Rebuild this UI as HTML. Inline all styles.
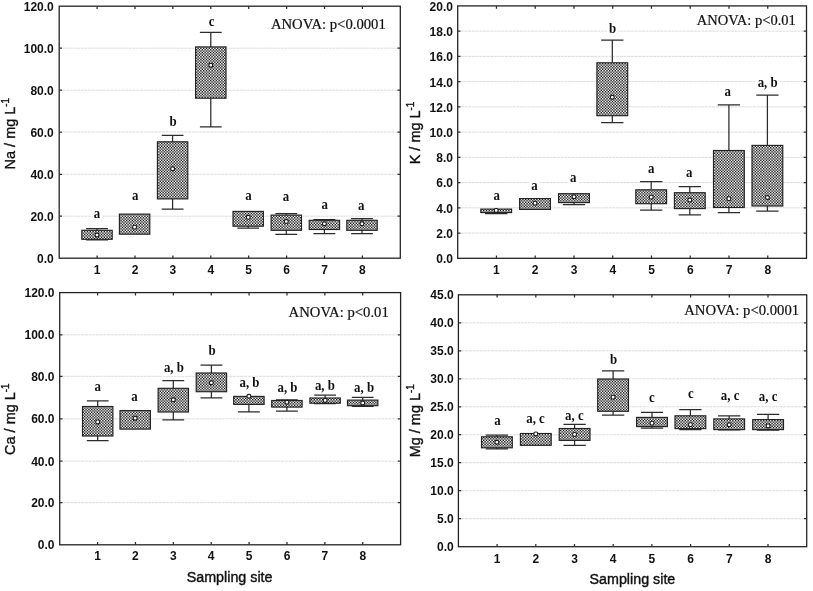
<!DOCTYPE html>
<html lang="en">
<head>
<meta charset="utf-8">
<title>Box plots: Na, K, Ca, Mg by sampling site</title>
<style>
html,body{margin:0;padding:0;background:#fff;}
body{width:813px;height:591px;overflow:hidden;}
svg{display:block;}
text{fill:#111;}
.tk{font-family:"Liberation Sans",Arial,sans-serif;font-size:12px;font-weight:bold;}
.al{font-family:"Liberation Sans",Arial,sans-serif;font-size:15.5px;stroke:#111;stroke-width:0.4px;}
.sup{font-size:10.5px;}
.xl{font-size:14.9px;}
.an{font-family:"Liberation Serif","Times New Roman",serif;font-size:14.2px;stroke:#111;stroke-width:0.2px;}
.lt{font-family:"Liberation Serif","Times New Roman",serif;font-size:14px;font-weight:bold;}
</style>
</head>
<body>
<svg width="813" height="591" viewBox="0 0 813 591">
<defs>
<pattern id="hatch" width="14" height="14" patternUnits="userSpaceOnUse"><rect width="14" height="14" fill="#1c1c1c"/><path d="M0 0h1.4v1.4h-1.4zM0 2.8h1.4v1.4h-1.4zM0 5.6h1.4v1.4h-1.4zM0 8.4h1.4v1.4h-1.4zM0 11.2h1.4v1.4h-1.4zM1.4 1.4h1.4v1.4h-1.4zM1.4 4.2h1.4v1.4h-1.4zM1.4 7h1.4v1.4h-1.4zM1.4 9.8h1.4v1.4h-1.4zM1.4 12.6h1.4v1.4h-1.4zM2.8 0h1.4v1.4h-1.4zM2.8 2.8h1.4v1.4h-1.4zM2.8 5.6h1.4v1.4h-1.4zM2.8 8.4h1.4v1.4h-1.4zM2.8 11.2h1.4v1.4h-1.4zM4.2 1.4h1.4v1.4h-1.4zM4.2 4.2h1.4v1.4h-1.4zM4.2 7h1.4v1.4h-1.4zM4.2 9.8h1.4v1.4h-1.4zM4.2 12.6h1.4v1.4h-1.4zM5.6 0h1.4v1.4h-1.4zM5.6 2.8h1.4v1.4h-1.4zM5.6 5.6h1.4v1.4h-1.4zM5.6 8.4h1.4v1.4h-1.4zM5.6 11.2h1.4v1.4h-1.4zM7 1.4h1.4v1.4h-1.4zM7 4.2h1.4v1.4h-1.4zM7 7h1.4v1.4h-1.4zM7 9.8h1.4v1.4h-1.4zM7 12.6h1.4v1.4h-1.4zM8.4 0h1.4v1.4h-1.4zM8.4 2.8h1.4v1.4h-1.4zM8.4 5.6h1.4v1.4h-1.4zM8.4 8.4h1.4v1.4h-1.4zM8.4 11.2h1.4v1.4h-1.4zM9.8 1.4h1.4v1.4h-1.4zM9.8 4.2h1.4v1.4h-1.4zM9.8 7h1.4v1.4h-1.4zM9.8 9.8h1.4v1.4h-1.4zM9.8 12.6h1.4v1.4h-1.4zM11.2 0h1.4v1.4h-1.4zM11.2 2.8h1.4v1.4h-1.4zM11.2 5.6h1.4v1.4h-1.4zM11.2 8.4h1.4v1.4h-1.4zM11.2 11.2h1.4v1.4h-1.4zM12.6 1.4h1.4v1.4h-1.4zM12.6 4.2h1.4v1.4h-1.4zM12.6 7h1.4v1.4h-1.4zM12.6 9.8h1.4v1.4h-1.4zM12.6 12.6h1.4v1.4h-1.4z" fill="#fff"/></pattern>
</defs>
<rect width="813" height="591" fill="#fff"/>
<g>
<line x1="62.2" y1="48.2" x2="397.3" y2="48.2" stroke="#dadada" stroke-width="0.95" stroke-dasharray="3 0.7"/>
<line x1="62.2" y1="90.2" x2="397.3" y2="90.2" stroke="#dadada" stroke-width="0.95" stroke-dasharray="3 0.7"/>
<line x1="62.2" y1="132" x2="397.3" y2="132" stroke="#dadada" stroke-width="0.95" stroke-dasharray="3 0.7"/>
<line x1="62.2" y1="174.3" x2="397.3" y2="174.3" stroke="#dadada" stroke-width="0.95" stroke-dasharray="3 0.7"/>
<line x1="62.2" y1="216.2" x2="397.3" y2="216.2" stroke="#dadada" stroke-width="0.95" stroke-dasharray="3 0.7"/>
<rect x="91.5" y="207.7" width="11" height="14" fill="#fff"/>
<rect x="129.6" y="190.35" width="11" height="14" fill="#fff"/>
<rect x="167.5" y="116" width="11" height="14" fill="#fff"/>
<rect x="206.1" y="15.7" width="11" height="14" fill="#fff"/>
<rect x="242.9" y="189.9" width="11" height="14" fill="#fff"/>
<rect x="280.4" y="191.2" width="11" height="14" fill="#fff"/>
<rect x="319.1" y="199.2" width="11" height="14" fill="#fff"/>
<rect x="355.8" y="199.5" width="11" height="14" fill="#fff"/>
<path d="M97 230.3V228.5M86.1 228.5H107.9" stroke="#2c2c2c" stroke-width="1.25" fill="none"/>
<path d="M97 239.3V239.9M86.1 239.9H107.9" stroke="#2c2c2c" stroke-width="1.25" fill="none"/>
<rect x="81.8" y="230.3" width="30.4" height="9" fill="url(#hatch)" stroke="#222" stroke-width="1.15"/>
<rect x="95.1" y="233.1" width="3.8" height="3.8" rx="1.6" fill="#fff" stroke="#1c1c1c" stroke-width="1.15"/>
<text class="lt" transform="translate(97 217.7) scale(0.92 1)" text-anchor="middle">a</text>
<rect x="119.4" y="214.1" width="30.4" height="20.1" fill="url(#hatch)" stroke="#222" stroke-width="1.15"/>
<rect x="132.7" y="225.2" width="3.8" height="3.8" rx="1.6" fill="#fff" stroke="#1c1c1c" stroke-width="1.15"/>
<text class="lt" transform="translate(135.1 200.35) scale(0.92 1)" text-anchor="middle">a</text>
<path d="M172.6 141.8V135.3M161.7 135.3H183.5" stroke="#2c2c2c" stroke-width="1.25" fill="none"/>
<path d="M172.6 198.9V209M161.7 209H183.5" stroke="#2c2c2c" stroke-width="1.25" fill="none"/>
<rect x="157.4" y="141.8" width="30.4" height="57.1" fill="url(#hatch)" stroke="#222" stroke-width="1.15"/>
<rect x="170.7" y="166.8" width="3.8" height="3.8" rx="1.6" fill="#fff" stroke="#1c1c1c" stroke-width="1.15"/>
<text class="lt" transform="translate(173 126) scale(0.92 1)" text-anchor="middle">b</text>
<path d="M210.8 46.9V32.3M199.9 32.3H221.7" stroke="#2c2c2c" stroke-width="1.25" fill="none"/>
<path d="M210.8 98.2V126.8M199.9 126.8H221.7" stroke="#2c2c2c" stroke-width="1.25" fill="none"/>
<rect x="195.6" y="46.9" width="30.4" height="51.3" fill="url(#hatch)" stroke="#222" stroke-width="1.15"/>
<rect x="208.9" y="63.3" width="3.8" height="3.8" rx="1.6" fill="#fff" stroke="#1c1c1c" stroke-width="1.15"/>
<text class="lt" transform="translate(211.6 25.7) scale(0.92 1)" text-anchor="middle">c</text>
<path d="M248.2 226.2V228.1M237.3 228.1H259.1" stroke="#2c2c2c" stroke-width="1.25" fill="none"/>
<rect x="233" y="211.4" width="30.4" height="14.8" fill="url(#hatch)" stroke="#222" stroke-width="1.15"/>
<rect x="246.3" y="215.4" width="3.8" height="3.8" rx="1.6" fill="#fff" stroke="#1c1c1c" stroke-width="1.15"/>
<text class="lt" transform="translate(248.4 199.9) scale(0.92 1)" text-anchor="middle">a</text>
<path d="M286.3 215.1V213.5M275.4 213.5H297.2" stroke="#2c2c2c" stroke-width="1.25" fill="none"/>
<path d="M286.3 230.3V234.4M275.4 234.4H297.2" stroke="#2c2c2c" stroke-width="1.25" fill="none"/>
<rect x="271.1" y="215.1" width="30.4" height="15.2" fill="url(#hatch)" stroke="#222" stroke-width="1.15"/>
<rect x="284.4" y="219.6" width="3.8" height="3.8" rx="1.6" fill="#fff" stroke="#1c1c1c" stroke-width="1.15"/>
<text class="lt" transform="translate(285.9 201.2) scale(0.92 1)" text-anchor="middle">a</text>
<path d="M324.4 220.3V219.7M313.5 219.7H335.3" stroke="#2c2c2c" stroke-width="1.25" fill="none"/>
<path d="M324.4 229.5V233.6M313.5 233.6H335.3" stroke="#2c2c2c" stroke-width="1.25" fill="none"/>
<rect x="309.2" y="220.3" width="30.4" height="9.2" fill="url(#hatch)" stroke="#222" stroke-width="1.15"/>
<rect x="322.5" y="221.8" width="3.8" height="3.8" rx="1.6" fill="#fff" stroke="#1c1c1c" stroke-width="1.15"/>
<text class="lt" transform="translate(324.6 209.2) scale(0.92 1)" text-anchor="middle">a</text>
<path d="M362 220.3V218.5M351.1 218.5H372.9" stroke="#2c2c2c" stroke-width="1.25" fill="none"/>
<path d="M362 230.3V233.6M351.1 233.6H372.9" stroke="#2c2c2c" stroke-width="1.25" fill="none"/>
<rect x="346.8" y="220.3" width="30.4" height="10" fill="url(#hatch)" stroke="#222" stroke-width="1.15"/>
<rect x="360.1" y="221.8" width="3.8" height="3.8" rx="1.6" fill="#fff" stroke="#1c1c1c" stroke-width="1.15"/>
<text class="lt" transform="translate(361.3 209.5) scale(0.92 1)" text-anchor="middle">a</text>
<rect x="59.2" y="6.2" width="341.1" height="252" fill="none" stroke="#242424" stroke-width="1.3"/>
<path d="M97.1 6.2v2.8M97.1 258.2v-2.8M135 6.2v2.8M135 258.2v-2.8M172.9 6.2v2.8M172.9 258.2v-2.8M210.8 6.2v2.8M210.8 258.2v-2.8M248.7 6.2v2.8M248.7 258.2v-2.8M286.6 6.2v2.8M286.6 258.2v-2.8M324.5 6.2v2.8M324.5 258.2v-2.8M362.4 6.2v2.8M362.4 258.2v-2.8M59.2 48.2h2.8M400.3 48.2h-2.8M59.2 90.2h2.8M400.3 90.2h-2.8M59.2 132h2.8M400.3 132h-2.8M59.2 174.3h2.8M400.3 174.3h-2.8M59.2 216.2h2.8M400.3 216.2h-2.8" stroke="#2c2c2c" stroke-width="1.25" fill="none"/>
<text class="tk" x="53.8" y="10.8" text-anchor="end">120.0</text>
<text class="tk" x="53.8" y="53" text-anchor="end">100.0</text>
<text class="tk" x="53.8" y="95" text-anchor="end">80.0</text>
<text class="tk" x="53.8" y="136.8" text-anchor="end">60.0</text>
<text class="tk" x="53.8" y="179.1" text-anchor="end">40.0</text>
<text class="tk" x="53.8" y="221" text-anchor="end">20.0</text>
<text class="tk" x="53.8" y="263" text-anchor="end">0.0</text>
<text class="tk" x="97.1" y="274" text-anchor="middle">1</text>
<text class="tk" x="135" y="274" text-anchor="middle">2</text>
<text class="tk" x="172.9" y="274" text-anchor="middle">3</text>
<text class="tk" x="210.8" y="274" text-anchor="middle">4</text>
<text class="tk" x="248.7" y="274" text-anchor="middle">5</text>
<text class="tk" x="286.6" y="274" text-anchor="middle">6</text>
<text class="tk" x="324.5" y="274" text-anchor="middle">7</text>
<text class="tk" x="362.4" y="274" text-anchor="middle">8</text>
<text class="al" transform="translate(14.9 133.7) rotate(-90) scale(0.935 1)" text-anchor="middle">Na / mg L<tspan class="sup" dy="-6">-1</tspan></text>
<text class="an" transform="translate(385.8 28.9) scale(1.035 1)" text-anchor="end">ANOVA: p&lt;0.0001</text>
</g>
<g>
<line x1="460.7" y1="31.14" x2="803.5" y2="31.14" stroke="#dadada" stroke-width="0.95" stroke-dasharray="3 0.7"/>
<line x1="460.7" y1="56.38" x2="803.5" y2="56.38" stroke="#dadada" stroke-width="0.95" stroke-dasharray="3 0.7"/>
<line x1="460.7" y1="81.62" x2="803.5" y2="81.62" stroke="#dadada" stroke-width="0.95" stroke-dasharray="3 0.7"/>
<line x1="460.7" y1="106.86" x2="803.5" y2="106.86" stroke="#dadada" stroke-width="0.95" stroke-dasharray="3 0.7"/>
<line x1="460.7" y1="132.1" x2="803.5" y2="132.1" stroke="#dadada" stroke-width="0.95" stroke-dasharray="3 0.7"/>
<line x1="460.7" y1="157.34" x2="803.5" y2="157.34" stroke="#dadada" stroke-width="0.95" stroke-dasharray="3 0.7"/>
<line x1="460.7" y1="182.58" x2="803.5" y2="182.58" stroke="#dadada" stroke-width="0.95" stroke-dasharray="3 0.7"/>
<line x1="460.7" y1="207.82" x2="803.5" y2="207.82" stroke="#dadada" stroke-width="0.95" stroke-dasharray="3 0.7"/>
<line x1="460.7" y1="233.06" x2="803.5" y2="233.06" stroke="#dadada" stroke-width="0.95" stroke-dasharray="3 0.7"/>
<rect x="491.3" y="190" width="11" height="14" fill="#fff"/>
<rect x="528.9" y="180.2" width="11" height="14" fill="#fff"/>
<rect x="567.7" y="171.9" width="11" height="14" fill="#fff"/>
<rect x="607.2" y="23" width="11" height="14" fill="#fff"/>
<rect x="645.8" y="162.6" width="11" height="14" fill="#fff"/>
<rect x="683.7" y="167.2" width="11" height="14" fill="#fff"/>
<rect x="722.2" y="86" width="11" height="14" fill="#fff"/>
<rect x="755.1" y="76.6" width="25.2" height="14" fill="#fff"/>
<path d="M496.2 212.6V213.6M485.05 213.6H507.35" stroke="#2c2c2c" stroke-width="1.25" fill="none"/>
<rect x="480.8" y="209.1" width="30.8" height="3.5" fill="url(#hatch)" stroke="#222" stroke-width="1.15"/>
<rect x="494.3" y="208.5" width="3.8" height="3.8" rx="1.6" fill="#fff" stroke="#1c1c1c" stroke-width="1.15"/>
<text class="lt" transform="translate(496.8 200) scale(0.92 1)" text-anchor="middle">a</text>
<rect x="519.6" y="198.6" width="30.8" height="10.8" fill="url(#hatch)" stroke="#222" stroke-width="1.15"/>
<rect x="533.1" y="201.2" width="3.8" height="3.8" rx="1.6" fill="#fff" stroke="#1c1c1c" stroke-width="1.15"/>
<text class="lt" transform="translate(534.4 190.2) scale(0.92 1)" text-anchor="middle">a</text>
<path d="M574 202.6V204.5M562.85 204.5H585.15" stroke="#2c2c2c" stroke-width="1.25" fill="none"/>
<rect x="558.6" y="193.7" width="30.8" height="8.9" fill="url(#hatch)" stroke="#222" stroke-width="1.15"/>
<rect x="572.1" y="194.8" width="3.8" height="3.8" rx="1.6" fill="#fff" stroke="#1c1c1c" stroke-width="1.15"/>
<text class="lt" transform="translate(573.2 181.9) scale(0.92 1)" text-anchor="middle">a</text>
<path d="M612.3 62.8V40.1M601.15 40.1H623.45" stroke="#2c2c2c" stroke-width="1.25" fill="none"/>
<path d="M612.3 115.7V122.6M601.15 122.6H623.45" stroke="#2c2c2c" stroke-width="1.25" fill="none"/>
<rect x="596.9" y="62.8" width="30.8" height="52.9" fill="url(#hatch)" stroke="#222" stroke-width="1.15"/>
<rect x="610.4" y="95.3" width="3.8" height="3.8" rx="1.6" fill="#fff" stroke="#1c1c1c" stroke-width="1.15"/>
<text class="lt" transform="translate(612.7 33) scale(0.92 1)" text-anchor="middle">b</text>
<path d="M651.2 189.8V181.6M640.05 181.6H662.35" stroke="#2c2c2c" stroke-width="1.25" fill="none"/>
<path d="M651.2 203.7V210.2M640.05 210.2H662.35" stroke="#2c2c2c" stroke-width="1.25" fill="none"/>
<rect x="635.8" y="189.8" width="30.8" height="13.9" fill="url(#hatch)" stroke="#222" stroke-width="1.15"/>
<rect x="649.3" y="195.2" width="3.8" height="3.8" rx="1.6" fill="#fff" stroke="#1c1c1c" stroke-width="1.15"/>
<text class="lt" transform="translate(651.3 172.6) scale(0.92 1)" text-anchor="middle">a</text>
<path d="M689.8 192.7V186.5M678.65 186.5H700.95" stroke="#2c2c2c" stroke-width="1.25" fill="none"/>
<path d="M689.8 208.6V214.8M678.65 214.8H700.95" stroke="#2c2c2c" stroke-width="1.25" fill="none"/>
<rect x="674.4" y="192.7" width="30.8" height="15.9" fill="url(#hatch)" stroke="#222" stroke-width="1.15"/>
<rect x="687.9" y="198.1" width="3.8" height="3.8" rx="1.6" fill="#fff" stroke="#1c1c1c" stroke-width="1.15"/>
<text class="lt" transform="translate(689.2 177.2) scale(0.92 1)" text-anchor="middle">a</text>
<path d="M728.9 150.5V104.9M717.75 104.9H740.05" stroke="#2c2c2c" stroke-width="1.25" fill="none"/>
<path d="M728.9 207.5V212.6M717.75 212.6H740.05" stroke="#2c2c2c" stroke-width="1.25" fill="none"/>
<rect x="713.5" y="150.5" width="30.8" height="57" fill="url(#hatch)" stroke="#222" stroke-width="1.15"/>
<rect x="727" y="196.7" width="3.8" height="3.8" rx="1.6" fill="#fff" stroke="#1c1c1c" stroke-width="1.15"/>
<text class="lt" transform="translate(727.7 96) scale(0.92 1)" text-anchor="middle">a</text>
<path d="M767.4 145.4V95.2M756.25 95.2H778.55" stroke="#2c2c2c" stroke-width="1.25" fill="none"/>
<path d="M767.4 206V211.1M756.25 211.1H778.55" stroke="#2c2c2c" stroke-width="1.25" fill="none"/>
<rect x="752" y="145.4" width="30.8" height="60.6" fill="url(#hatch)" stroke="#222" stroke-width="1.15"/>
<rect x="765.5" y="195.6" width="3.8" height="3.8" rx="1.6" fill="#fff" stroke="#1c1c1c" stroke-width="1.15"/>
<text class="lt" transform="translate(767.7 86.6) scale(0.92 1)" text-anchor="middle">a, b</text>
<rect x="457.7" y="5.9" width="348.8" height="252.4" fill="none" stroke="#242424" stroke-width="1.3"/>
<path d="M496.46 5.9v2.8M496.46 258.3v-2.8M535.21 5.9v2.8M535.21 258.3v-2.8M573.97 5.9v2.8M573.97 258.3v-2.8M612.72 5.9v2.8M612.72 258.3v-2.8M651.48 5.9v2.8M651.48 258.3v-2.8M690.23 5.9v2.8M690.23 258.3v-2.8M728.99 5.9v2.8M728.99 258.3v-2.8M767.74 5.9v2.8M767.74 258.3v-2.8M457.7 31.14h2.8M806.5 31.14h-2.8M457.7 56.38h2.8M806.5 56.38h-2.8M457.7 81.62h2.8M806.5 81.62h-2.8M457.7 106.86h2.8M806.5 106.86h-2.8M457.7 132.1h2.8M806.5 132.1h-2.8M457.7 157.34h2.8M806.5 157.34h-2.8M457.7 182.58h2.8M806.5 182.58h-2.8M457.7 207.82h2.8M806.5 207.82h-2.8M457.7 233.06h2.8M806.5 233.06h-2.8" stroke="#2c2c2c" stroke-width="1.25" fill="none"/>
<text class="tk" x="452.9" y="10.8" text-anchor="end">20.0</text>
<text class="tk" x="452.9" y="36.04" text-anchor="end">18.0</text>
<text class="tk" x="452.9" y="61.28" text-anchor="end">16.0</text>
<text class="tk" x="452.9" y="86.52" text-anchor="end">14.0</text>
<text class="tk" x="452.9" y="111.76" text-anchor="end">12.0</text>
<text class="tk" x="452.9" y="137" text-anchor="end">10.0</text>
<text class="tk" x="452.9" y="162.24" text-anchor="end">8.0</text>
<text class="tk" x="452.9" y="187.48" text-anchor="end">6.0</text>
<text class="tk" x="452.9" y="212.72" text-anchor="end">4.0</text>
<text class="tk" x="452.9" y="237.96" text-anchor="end">2.0</text>
<text class="tk" x="452.9" y="263.2" text-anchor="end">0.0</text>
<text class="tk" x="496.46" y="274.2" text-anchor="middle">1</text>
<text class="tk" x="535.21" y="274.2" text-anchor="middle">2</text>
<text class="tk" x="573.97" y="274.2" text-anchor="middle">3</text>
<text class="tk" x="612.72" y="274.2" text-anchor="middle">4</text>
<text class="tk" x="651.48" y="274.2" text-anchor="middle">5</text>
<text class="tk" x="690.23" y="274.2" text-anchor="middle">6</text>
<text class="tk" x="728.99" y="274.2" text-anchor="middle">7</text>
<text class="tk" x="767.74" y="274.2" text-anchor="middle">8</text>
<text class="al" transform="translate(420.4 133) rotate(-90) scale(0.935 1)" text-anchor="middle">K / mg L<tspan class="sup" dy="-6">-1</tspan></text>
<text class="an" transform="translate(795.8 24.9) scale(1.022 1)" text-anchor="end">ANOVA: p&lt;0.01</text>
</g>
<g>
<line x1="62.7" y1="334.8" x2="397.6" y2="334.8" stroke="#dadada" stroke-width="0.95" stroke-dasharray="3 0.7"/>
<line x1="62.7" y1="376.3" x2="397.6" y2="376.3" stroke="#dadada" stroke-width="0.95" stroke-dasharray="3 0.7"/>
<line x1="62.7" y1="418.8" x2="397.6" y2="418.8" stroke="#dadada" stroke-width="0.95" stroke-dasharray="3 0.7"/>
<line x1="62.7" y1="461.2" x2="397.6" y2="461.2" stroke="#dadada" stroke-width="0.95" stroke-dasharray="3 0.7"/>
<line x1="62.7" y1="502.7" x2="397.6" y2="502.7" stroke="#dadada" stroke-width="0.95" stroke-dasharray="3 0.7"/>
<rect x="92.3" y="380.5" width="11" height="14" fill="#fff"/>
<rect x="128.9" y="391.3" width="11" height="14" fill="#fff"/>
<rect x="161.3" y="362.1" width="25.2" height="14" fill="#fff"/>
<rect x="206.5" y="345.3" width="11" height="14" fill="#fff"/>
<rect x="236.9" y="377" width="25.2" height="14" fill="#fff"/>
<rect x="274.9" y="382.4" width="25.2" height="14" fill="#fff"/>
<rect x="312.3" y="379.7" width="25.2" height="14" fill="#fff"/>
<rect x="351.5" y="381.9" width="25.2" height="14" fill="#fff"/>
<path d="M97.7 406.5V400.8M86.8 400.8H108.6" stroke="#2c2c2c" stroke-width="1.25" fill="none"/>
<path d="M97.7 436V440.6M86.8 440.6H108.6" stroke="#2c2c2c" stroke-width="1.25" fill="none"/>
<rect x="82.5" y="406.5" width="30.4" height="29.5" fill="url(#hatch)" stroke="#222" stroke-width="1.15"/>
<rect x="95.8" y="420" width="3.8" height="3.8" rx="1.6" fill="#fff" stroke="#1c1c1c" stroke-width="1.15"/>
<text class="lt" transform="translate(97.8 390.5) scale(0.92 1)" text-anchor="middle">a</text>
<rect x="120" y="410.6" width="30.4" height="18.5" fill="url(#hatch)" stroke="#222" stroke-width="1.15"/>
<rect x="133.3" y="416.4" width="3.8" height="3.8" rx="1.6" fill="#fff" stroke="#1c1c1c" stroke-width="1.15"/>
<text class="lt" transform="translate(134.4 401.3) scale(0.92 1)" text-anchor="middle">a</text>
<path d="M173.3 388.3V380.7M162.4 380.7H184.2" stroke="#2c2c2c" stroke-width="1.25" fill="none"/>
<path d="M173.3 412V419.9M162.4 419.9H184.2" stroke="#2c2c2c" stroke-width="1.25" fill="none"/>
<rect x="158.1" y="388.3" width="30.4" height="23.7" fill="url(#hatch)" stroke="#222" stroke-width="1.15"/>
<rect x="171.4" y="397.9" width="3.8" height="3.8" rx="1.6" fill="#fff" stroke="#1c1c1c" stroke-width="1.15"/>
<text class="lt" transform="translate(173.9 372.1) scale(0.92 1)" text-anchor="middle">a, b</text>
<path d="M211.4 373V365.2M200.5 365.2H222.3" stroke="#2c2c2c" stroke-width="1.25" fill="none"/>
<path d="M211.4 391.7V397.8M200.5 397.8H222.3" stroke="#2c2c2c" stroke-width="1.25" fill="none"/>
<rect x="196.2" y="373" width="30.4" height="18.7" fill="url(#hatch)" stroke="#222" stroke-width="1.15"/>
<rect x="209.5" y="380.9" width="3.8" height="3.8" rx="1.6" fill="#fff" stroke="#1c1c1c" stroke-width="1.15"/>
<text class="lt" transform="translate(212 355.3) scale(0.92 1)" text-anchor="middle">b</text>
<path d="M248.9 404.4V411.8M238 411.8H259.8" stroke="#2c2c2c" stroke-width="1.25" fill="none"/>
<rect x="233.7" y="396.4" width="30.4" height="8" fill="url(#hatch)" stroke="#222" stroke-width="1.15"/>
<rect x="247" y="394.4" width="3.8" height="3.8" rx="1.6" fill="#fff" stroke="#1c1c1c" stroke-width="1.15"/>
<text class="lt" transform="translate(249.5 387) scale(0.92 1)" text-anchor="middle">a, b</text>
<path d="M286.9 400.5V399.9M276 399.9H297.8" stroke="#2c2c2c" stroke-width="1.25" fill="none"/>
<path d="M286.9 407.1V411.2M276 411.2H297.8" stroke="#2c2c2c" stroke-width="1.25" fill="none"/>
<rect x="271.7" y="400.5" width="30.4" height="6.6" fill="url(#hatch)" stroke="#222" stroke-width="1.15"/>
<rect x="285" y="400.3" width="3.8" height="3.8" rx="1.6" fill="#fff" stroke="#1c1c1c" stroke-width="1.15"/>
<text class="lt" transform="translate(287.5 392.4) scale(0.92 1)" text-anchor="middle">a, b</text>
<path d="M325.1 398V395.2M314.2 395.2H336" stroke="#2c2c2c" stroke-width="1.25" fill="none"/>
<path d="M325.1 403.2V403.5M314.2 403.5H336" stroke="#2c2c2c" stroke-width="1.25" fill="none"/>
<rect x="309.9" y="398" width="30.4" height="5.2" fill="url(#hatch)" stroke="#222" stroke-width="1.15"/>
<rect x="323.2" y="398.5" width="3.8" height="3.8" rx="1.6" fill="#fff" stroke="#1c1c1c" stroke-width="1.15"/>
<text class="lt" transform="translate(324.9 389.7) scale(0.92 1)" text-anchor="middle">a, b</text>
<path d="M362.7 400.1V397.3M351.8 397.3H373.6" stroke="#2c2c2c" stroke-width="1.25" fill="none"/>
<path d="M362.7 405.7V406.3M351.8 406.3H373.6" stroke="#2c2c2c" stroke-width="1.25" fill="none"/>
<rect x="347.5" y="400.1" width="30.4" height="5.6" fill="url(#hatch)" stroke="#222" stroke-width="1.15"/>
<rect x="360.8" y="401.1" width="3.8" height="3.8" rx="1.6" fill="#fff" stroke="#1c1c1c" stroke-width="1.15"/>
<text class="lt" transform="translate(364.1 391.9) scale(0.92 1)" text-anchor="middle">a, b</text>
<rect x="59.7" y="292.6" width="340.9" height="252.2" fill="none" stroke="#242424" stroke-width="1.3"/>
<path d="M97.58 292.6v2.8M97.58 544.8v-2.8M135.46 292.6v2.8M135.46 544.8v-2.8M173.33 292.6v2.8M173.33 544.8v-2.8M211.21 292.6v2.8M211.21 544.8v-2.8M249.09 292.6v2.8M249.09 544.8v-2.8M286.97 292.6v2.8M286.97 544.8v-2.8M324.84 292.6v2.8M324.84 544.8v-2.8M362.72 292.6v2.8M362.72 544.8v-2.8M59.7 334.8h2.8M400.6 334.8h-2.8M59.7 376.3h2.8M400.6 376.3h-2.8M59.7 418.8h2.8M400.6 418.8h-2.8M59.7 461.2h2.8M400.6 461.2h-2.8M59.7 502.7h2.8M400.6 502.7h-2.8" stroke="#2c2c2c" stroke-width="1.25" fill="none"/>
<text class="tk" x="54.5" y="296.9" text-anchor="end">120.0</text>
<text class="tk" x="54.5" y="339.1" text-anchor="end">100.0</text>
<text class="tk" x="54.5" y="380.6" text-anchor="end">80.0</text>
<text class="tk" x="54.5" y="423.1" text-anchor="end">60.0</text>
<text class="tk" x="54.5" y="465.5" text-anchor="end">40.0</text>
<text class="tk" x="54.5" y="507" text-anchor="end">20.0</text>
<text class="tk" x="54.5" y="549.1" text-anchor="end">0.0</text>
<text class="tk" x="97.58" y="560" text-anchor="middle">1</text>
<text class="tk" x="135.46" y="560" text-anchor="middle">2</text>
<text class="tk" x="173.33" y="560" text-anchor="middle">3</text>
<text class="tk" x="211.21" y="560" text-anchor="middle">4</text>
<text class="tk" x="249.09" y="560" text-anchor="middle">5</text>
<text class="tk" x="286.97" y="560" text-anchor="middle">6</text>
<text class="tk" x="324.84" y="560" text-anchor="middle">7</text>
<text class="tk" x="362.72" y="560" text-anchor="middle">8</text>
<text class="al" transform="translate(14.7 419.2) rotate(-90) scale(0.935 1)" text-anchor="middle">Ca / mg L<tspan class="sup" dy="-6">-1</tspan></text>
<text class="an" transform="translate(388.8 316.5) scale(1.035 1)" text-anchor="end">ANOVA: p&lt;0.01</text>
<text class="al xl" transform="translate(229.6 581.8) scale(0.96 1)" text-anchor="middle">Sampling site</text>
</g>
<g>
<line x1="461.4" y1="322.79" x2="803.7" y2="322.79" stroke="#dadada" stroke-width="0.95" stroke-dasharray="3 0.7"/>
<line x1="461.4" y1="350.78" x2="803.7" y2="350.78" stroke="#dadada" stroke-width="0.95" stroke-dasharray="3 0.7"/>
<line x1="461.4" y1="378.77" x2="803.7" y2="378.77" stroke="#dadada" stroke-width="0.95" stroke-dasharray="3 0.7"/>
<line x1="461.4" y1="406.76" x2="803.7" y2="406.76" stroke="#dadada" stroke-width="0.95" stroke-dasharray="3 0.7"/>
<line x1="461.4" y1="434.74" x2="803.7" y2="434.74" stroke="#dadada" stroke-width="0.95" stroke-dasharray="3 0.7"/>
<line x1="461.4" y1="462.73" x2="803.7" y2="462.73" stroke="#dadada" stroke-width="0.95" stroke-dasharray="3 0.7"/>
<line x1="461.4" y1="490.72" x2="803.7" y2="490.72" stroke="#dadada" stroke-width="0.95" stroke-dasharray="3 0.7"/>
<line x1="461.4" y1="518.71" x2="803.7" y2="518.71" stroke="#dadada" stroke-width="0.95" stroke-dasharray="3 0.7"/>
<rect x="491.9" y="414.6" width="11" height="14" fill="#fff"/>
<rect x="522.9" y="413.2" width="25.2" height="14" fill="#fff"/>
<rect x="561.8" y="409.7" width="25.2" height="14" fill="#fff"/>
<rect x="608" y="354.1" width="11" height="14" fill="#fff"/>
<rect x="646.4" y="392.4" width="11" height="14" fill="#fff"/>
<rect x="685.4" y="388.1" width="11" height="14" fill="#fff"/>
<rect x="717.5" y="390" width="25.2" height="14" fill="#fff"/>
<rect x="755.5" y="390.8" width="25.2" height="14" fill="#fff"/>
<path d="M496.9 436.8V435M485.75 435H508.05" stroke="#2c2c2c" stroke-width="1.25" fill="none"/>
<path d="M496.9 447.8V448.8M485.75 448.8H508.05" stroke="#2c2c2c" stroke-width="1.25" fill="none"/>
<rect x="481.5" y="436.8" width="30.8" height="11" fill="url(#hatch)" stroke="#222" stroke-width="1.15"/>
<rect x="495" y="440.4" width="3.8" height="3.8" rx="1.6" fill="#fff" stroke="#1c1c1c" stroke-width="1.15"/>
<text class="lt" transform="translate(497.4 424.6) scale(0.92 1)" text-anchor="middle">a</text>
<rect x="520.4" y="433.5" width="30.8" height="11.8" fill="url(#hatch)" stroke="#222" stroke-width="1.15"/>
<rect x="533.9" y="432" width="3.8" height="3.8" rx="1.6" fill="#fff" stroke="#1c1c1c" stroke-width="1.15"/>
<text class="lt" transform="translate(535.5 423.2) scale(0.92 1)" text-anchor="middle">a, c</text>
<path d="M574.6 428.5V424.4M563.45 424.4H585.75" stroke="#2c2c2c" stroke-width="1.25" fill="none"/>
<path d="M574.6 440.4V445.3M563.45 445.3H585.75" stroke="#2c2c2c" stroke-width="1.25" fill="none"/>
<rect x="559.2" y="428.5" width="30.8" height="11.9" fill="url(#hatch)" stroke="#222" stroke-width="1.15"/>
<rect x="572.7" y="432.5" width="3.8" height="3.8" rx="1.6" fill="#fff" stroke="#1c1c1c" stroke-width="1.15"/>
<text class="lt" transform="translate(574.4 419.7) scale(0.92 1)" text-anchor="middle">a, c</text>
<path d="M613.1 379V370.9M601.95 370.9H624.25" stroke="#2c2c2c" stroke-width="1.25" fill="none"/>
<path d="M613.1 411.3V415.2M601.95 415.2H624.25" stroke="#2c2c2c" stroke-width="1.25" fill="none"/>
<rect x="597.7" y="379" width="30.8" height="32.3" fill="url(#hatch)" stroke="#222" stroke-width="1.15"/>
<rect x="611.2" y="395.2" width="3.8" height="3.8" rx="1.6" fill="#fff" stroke="#1c1c1c" stroke-width="1.15"/>
<text class="lt" transform="translate(613.5 364.1) scale(0.92 1)" text-anchor="middle">b</text>
<path d="M652 417.4V412.4M640.85 412.4H663.15" stroke="#2c2c2c" stroke-width="1.25" fill="none"/>
<path d="M652 426.6V428M640.85 428H663.15" stroke="#2c2c2c" stroke-width="1.25" fill="none"/>
<rect x="636.6" y="417.4" width="30.8" height="9.2" fill="url(#hatch)" stroke="#222" stroke-width="1.15"/>
<rect x="650.1" y="421.2" width="3.8" height="3.8" rx="1.6" fill="#fff" stroke="#1c1c1c" stroke-width="1.15"/>
<text class="lt" transform="translate(651.9 402.4) scale(0.92 1)" text-anchor="middle">c</text>
<path d="M690.4 415.8V409.5M679.25 409.5H701.55" stroke="#2c2c2c" stroke-width="1.25" fill="none"/>
<path d="M690.4 428.6V429.6M679.25 429.6H701.55" stroke="#2c2c2c" stroke-width="1.25" fill="none"/>
<rect x="675" y="415.8" width="30.8" height="12.8" fill="url(#hatch)" stroke="#222" stroke-width="1.15"/>
<rect x="688.5" y="422.7" width="3.8" height="3.8" rx="1.6" fill="#fff" stroke="#1c1c1c" stroke-width="1.15"/>
<text class="lt" transform="translate(690.9 398.1) scale(0.92 1)" text-anchor="middle">c</text>
<path d="M729.2 418.9V415.9M718.05 415.9H740.35" stroke="#2c2c2c" stroke-width="1.25" fill="none"/>
<path d="M729.2 429.6V429.9M718.05 429.9H740.35" stroke="#2c2c2c" stroke-width="1.25" fill="none"/>
<rect x="713.8" y="418.9" width="30.8" height="10.7" fill="url(#hatch)" stroke="#222" stroke-width="1.15"/>
<rect x="727.3" y="422.9" width="3.8" height="3.8" rx="1.6" fill="#fff" stroke="#1c1c1c" stroke-width="1.15"/>
<text class="lt" transform="translate(730.1 400) scale(0.92 1)" text-anchor="middle">a, c</text>
<path d="M768.1 419.6V414.3M756.95 414.3H779.25" stroke="#2c2c2c" stroke-width="1.25" fill="none"/>
<path d="M768.1 429.6V430M756.95 430H779.25" stroke="#2c2c2c" stroke-width="1.25" fill="none"/>
<rect x="752.7" y="419.6" width="30.8" height="10" fill="url(#hatch)" stroke="#222" stroke-width="1.15"/>
<rect x="766.2" y="424" width="3.8" height="3.8" rx="1.6" fill="#fff" stroke="#1c1c1c" stroke-width="1.15"/>
<text class="lt" transform="translate(768.1 400.8) scale(0.92 1)" text-anchor="middle">a, c</text>
<rect x="458.4" y="294.8" width="348.3" height="251.9" fill="none" stroke="#242424" stroke-width="1.3"/>
<path d="M497.1 294.8v2.8M497.1 546.7v-2.8M535.8 294.8v2.8M535.8 546.7v-2.8M574.5 294.8v2.8M574.5 546.7v-2.8M613.2 294.8v2.8M613.2 546.7v-2.8M651.9 294.8v2.8M651.9 546.7v-2.8M690.6 294.8v2.8M690.6 546.7v-2.8M729.3 294.8v2.8M729.3 546.7v-2.8M768 294.8v2.8M768 546.7v-2.8M458.4 322.79h2.8M806.7 322.79h-2.8M458.4 350.78h2.8M806.7 350.78h-2.8M458.4 378.77h2.8M806.7 378.77h-2.8M458.4 406.76h2.8M806.7 406.76h-2.8M458.4 434.74h2.8M806.7 434.74h-2.8M458.4 462.73h2.8M806.7 462.73h-2.8M458.4 490.72h2.8M806.7 490.72h-2.8M458.4 518.71h2.8M806.7 518.71h-2.8" stroke="#2c2c2c" stroke-width="1.25" fill="none"/>
<text class="tk" x="453.7" y="299.1" text-anchor="end">45.0</text>
<text class="tk" x="453.7" y="327.09" text-anchor="end">40.0</text>
<text class="tk" x="453.7" y="355.08" text-anchor="end">35.0</text>
<text class="tk" x="453.7" y="383.07" text-anchor="end">30.0</text>
<text class="tk" x="453.7" y="411.06" text-anchor="end">25.0</text>
<text class="tk" x="453.7" y="439.04" text-anchor="end">20.0</text>
<text class="tk" x="453.7" y="467.03" text-anchor="end">15.0</text>
<text class="tk" x="453.7" y="495.02" text-anchor="end">10.0</text>
<text class="tk" x="453.7" y="523.01" text-anchor="end">5.0</text>
<text class="tk" x="453.7" y="551" text-anchor="end">0.0</text>
<text class="tk" x="497.1" y="562.6" text-anchor="middle">1</text>
<text class="tk" x="535.8" y="562.6" text-anchor="middle">2</text>
<text class="tk" x="574.5" y="562.6" text-anchor="middle">3</text>
<text class="tk" x="613.2" y="562.6" text-anchor="middle">4</text>
<text class="tk" x="651.9" y="562.6" text-anchor="middle">5</text>
<text class="tk" x="690.6" y="562.6" text-anchor="middle">6</text>
<text class="tk" x="729.3" y="562.6" text-anchor="middle">7</text>
<text class="tk" x="768" y="562.6" text-anchor="middle">8</text>
<text class="al" transform="translate(419.8 420.8) rotate(-90) scale(0.935 1)" text-anchor="middle">Mg / mg L<tspan class="sup" dy="-6">-1</tspan></text>
<text class="an" transform="translate(799.1 314.5) scale(1.035 1)" text-anchor="end">ANOVA: p&lt;0.0001</text>
<text class="al xl" transform="translate(632.4 584) scale(0.96 1)" text-anchor="middle">Sampling site</text>
</g>
</svg>
</body>
</html>
